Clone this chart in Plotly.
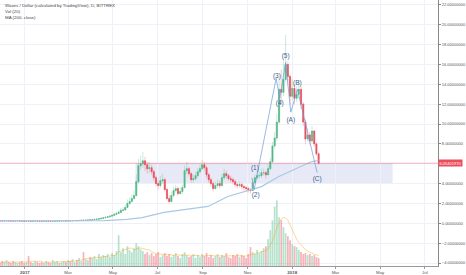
import pandas as pd
import plotly.graph_objects as go

# ---------------- data (3-day candles) ----------------
start_date = "2016-11-25"
closes = [
    0.26, 0.25, 0.24, 0.25, 0.26, 0.25, 0.24, 0.23, 0.24, 0.25,
    0.24, 0.23, 0.22, 0.24, 0.23, 0.22, 0.23, 0.24, 0.23, 0.22,
    0.21, 0.22, 0.23, 0.22, 0.21, 0.22, 0.23, 0.24, 0.23, 0.24,
    0.25, 0.24, 0.26, 0.25, 0.27, 0.28, 0.27, 0.29, 0.31, 0.30,
    0.32, 0.34, 0.33, 0.36, 0.40, 0.42, 0.45, 0.50, 0.55, 0.60,
    0.65, 0.72, 0.80, 0.90, 1.00, 1.10, 1.30, 1.35, 1.60, 2.00,
    2.20, 2.50, 2.80, 4.20, 5.80, 6.00, 6.30, 5.90, 5.50, 5.60,
    5.20, 4.60, 4.00, 3.80, 4.30, 4.40, 3.40, 2.50, 2.20, 2.80,
    3.30, 3.50, 3.00, 3.20, 3.60, 5.30, 5.50, 5.00, 4.40, 4.50,
    4.80, 5.20, 5.50, 5.90, 5.60, 4.90, 4.40, 4.00, 3.50, 3.80,
    4.00, 3.80, 4.60, 5.00, 4.80, 4.50, 4.40, 4.20, 3.90, 3.80,
    3.90, 3.70, 3.60, 3.50, 3.40, 3.30, 4.10, 4.60, 4.80, 4.80,
    5.10, 5.10, 4.90, 5.50, 6.20, 7.80, 8.60, 10.20, 13.50, 13.20,
    14.50, 16.00, 14.80, 12.80, 13.60, 12.60, 13.00, 13.50, 12.00, 10.20,
    8.50, 8.90, 8.30, 9.30, 8.00, 7.00, 6.054,
]
highs = [
    0.28, 0.27, 0.26, 0.27, 0.28, 0.27, 0.26, 0.25, 0.26, 0.27,
    0.26, 0.25, 0.24, 0.26, 0.25, 0.24, 0.25, 0.26, 0.25, 0.24,
    0.23, 0.24, 0.25, 0.24, 0.23, 0.24, 0.25, 0.26, 0.25, 0.26,
    0.27, 0.27, 0.28, 0.28, 0.30, 0.31, 0.30, 0.32, 0.34, 0.34,
    0.35, 0.37, 0.37, 0.40, 0.44, 0.46, 0.50, 0.56, 0.62, 0.68,
    0.74, 0.82, 0.92, 1.05, 1.15, 1.30, 1.55, 1.60, 1.90, 2.40,
    2.60, 2.90, 3.30, 4.90, 6.50, 6.80, 7.20, 6.70, 6.20, 6.20,
    5.90, 5.40, 4.80, 4.30, 4.80, 5.00, 4.60, 3.60, 2.90, 3.20,
    3.70, 3.90, 3.70, 3.60, 3.90, 5.80, 6.20, 5.70, 5.20, 4.90,
    5.20, 5.60, 5.90, 6.40, 6.20, 5.80, 5.10, 4.60, 4.20, 4.20,
    4.40, 4.30, 5.00, 5.50, 5.30, 5.00, 4.80, 4.60, 4.40, 4.10,
    4.20, 4.10, 3.90, 3.80, 3.70, 3.60, 4.40, 4.90, 5.20, 5.20,
    5.50, 5.50, 5.30, 5.90, 6.60, 8.20, 9.20, 11.00, 14.80, 15.50,
    16.50, 19.00, 16.30, 15.00, 14.50, 14.00, 13.80, 14.30, 13.80, 12.20,
    10.50, 9.60, 9.20, 9.80, 9.40, 8.20, 7.20,
]
lows = [
    0.24, 0.23, 0.22, 0.23, 0.24, 0.23, 0.22, 0.21, 0.22, 0.23,
    0.22, 0.21, 0.20, 0.21, 0.21, 0.20, 0.21, 0.22, 0.21, 0.20,
    0.19, 0.20, 0.21, 0.20, 0.19, 0.20, 0.21, 0.22, 0.21, 0.22,
    0.23, 0.22, 0.24, 0.23, 0.25, 0.26, 0.25, 0.27, 0.28, 0.28,
    0.29, 0.31, 0.30, 0.33, 0.35, 0.39, 0.41, 0.44, 0.49, 0.53,
    0.58, 0.63, 0.70, 0.78, 0.88, 0.95, 1.05, 1.20, 1.30, 1.55,
    1.80, 2.10, 2.40, 2.70, 4.00, 5.40, 5.60, 5.30, 5.00, 5.10,
    4.90, 4.30, 3.70, 3.40, 3.60, 4.00, 3.20, 2.30, 2.00, 2.10,
    2.60, 3.10, 2.80, 2.90, 3.00, 3.50, 4.90, 4.70, 4.10, 4.10,
    4.30, 4.60, 5.00, 5.30, 5.30, 4.60, 4.10, 3.70, 3.20, 3.40,
    3.60, 3.50, 3.70, 4.40, 4.50, 4.30, 4.10, 3.90, 3.60, 3.50,
    3.60, 3.40, 3.30, 3.20, 3.10, 3.00, 3.30, 4.00, 4.40, 4.50,
    4.60, 4.80, 4.50, 4.80, 5.40, 6.10, 7.50, 8.30, 10.00, 12.00,
    12.80, 14.20, 14.00, 12.00, 12.40, 12.00, 12.20, 12.60, 11.50, 9.80,
    8.00, 8.20, 7.90, 8.10, 7.70, 6.80, 5.90,
]
volumes = [
    4, 3, 5, 4, 6, 4, 3, 5, 4, 3,
    4, 5, 3, 4, 10, 4, 3, 5, 4, 3,
    4, 3, 5, 4, 3, 6, 4, 5, 3, 4,
    5, 4, 6, 5, 7, 4, 6, 8, 5, 14,
    7, 6, 9, 8, 10, 7, 12, 9, 11, 10,
    12, 9, 13, 11, 15, 31, 14, 18, 12, 20,
    16, 14, 18, 23, 20, 17, 15, 12, 14, 11,
    13, 10, 12, 14, 9, 11, 13, 10, 12, 9,
    11, 13, 10, 8, 12, 14, 11, 9, 10, 12,
    8, 11, 9, 12, 10, 13, 9, 11, 8, 10,
    12, 9, 11, 10, 13, 9, 8, 11, 10, 12,
    9, 11, 10, 8, 12, 19, 14, 12, 16, 13,
    15, 18, 20, 27, 36, 46, 60, 66, 49, 46,
    39, 33, 30, 26, 22, 20, 19, 16, 14, 12,
    13, 11, 12, 10, 11, 9, 8,
]

# MA(200, close)
ma_dates = ["2016-11-28", "2017-03-20", "2017-04-20", "2017-05-20", "2017-06-10",
            "2017-07-10", "2017-08-01", "2017-09-08", "2017-10-05", "2017-11-01",
            "2017-11-20", "2017-12-13", "2018-01-05", "2018-01-27", "2018-02-06"]
ma_values = [0.25, 0.25, 0.28, 0.40, 0.57, 1.10, 1.30, 1.70, 2.70, 3.30,
             3.70, 4.70, 5.50, 6.20, 6.35]

# Elliott wave points and labels
wave_dates = ["2017-11-07", "2017-11-10", "2017-12-10", "2017-12-15",
              "2017-12-23", "2017-12-30", "2018-01-08", "2018-02-04"]
wave_values = [4.6, 3.4, 14.6, 12.6, 16.2, 11.2, 13.5, 5.1]
wave_labels = ["(1)", "(2)", "(3)", "(4)", "(5)", "(A)", "(B)", "(C)"]
label_dates = ["2017-11-11", "2017-11-12", "2017-12-11", "2017-12-15",
               "2017-12-23", "2017-12-30", "2018-01-08", "2018-02-04"]
label_values = [5.5, 2.8, 14.8, 12.1, 16.8, 10.4, 14.1, 4.4]

last_price = 6.05401970
zone_start, zone_end = "2017-06-01", "2018-05-18"
zone_low, zone_high = 4.0, 6.054

price_ticks = [-4, -2, 0, 2, 4, 8, 10, 12, 14, 16, 18, 20, 22]
tick_vals = ["2017-01-01", "2017-03-01", "2017-05-01", "2017-07-01", "2017-09-01",
             "2017-11-01", "2018-01-01", "2018-03-01", "2018-05-01", "2018-07-01"]
tick_text = ["<b>2017</b>", "Mar", "May", "Jul", "Sep", "Nov", "<b>2018</b>", "Mar", "May", "Jul"]

# ---------------- build ----------------
dates = pd.date_range(start_date, periods=len(closes), freq="3D")
df = pd.DataFrame({"close": closes, "high": highs, "low": lows, "vol": volumes}, index=dates)
df["open"] = df["close"].shift(1).fillna(df["close"].iloc[0] * 0.98)
df["body_hi"] = df[["open", "close"]].max(axis=1)
df["body_lo"] = df[["open", "close"]].min(axis=1)
df["vol_ma"] = df["vol"].rolling(7, min_periods=1).mean()
up = df["close"] >= df["open"]

UP, DN = "#53b987", "#eb4d5c"
GRID = "#eef1f8"

fig = go.Figure()

# gridline hidden behind the price label in the reference
fig.add_shape(type="line", x0=0, x1=1, xref="paper", y0=6, y1=6, yref="y",
              line=dict(color=GRID, width=1), layer="below")

# volume
fig.add_trace(go.Bar(
    x=df.index, y=df["vol"], yaxis="y2",
    marker=dict(color=[("rgba(83,185,135,0.42)" if u else "rgba(235,77,92,0.42)") for u in up],
                line=dict(width=0)),
    hoverinfo="skip"))
fig.add_trace(go.Scatter(x=df.index, y=df["vol_ma"], yaxis="y2", mode="lines",
                         line=dict(color="rgba(255,152,0,0.5)", width=0.8), hoverinfo="skip"))

# MA 200
fig.add_trace(go.Scatter(x=pd.to_datetime(ma_dates), y=ma_values, mode="lines",
                         line=dict(color="#a9c8e6", width=1.2), hoverinfo="skip"))

# wicks (pale)
fig.add_trace(go.Candlestick(
    x=df.index, open=df["open"], high=df["high"], low=df["low"], close=df["close"],
    increasing=dict(line=dict(color="rgba(83,185,135,0.3)", width=1), fillcolor="rgba(83,185,135,0.3)"),
    decreasing=dict(line=dict(color="rgba(235,77,92,0.3)", width=1), fillcolor="rgba(235,77,92,0.3)"),
    hoverinfo="skip"))
# bodies
fig.add_trace(go.Candlestick(
    x=df.index, open=df["open"], high=df["body_hi"], low=df["body_lo"], close=df["close"],
    increasing=dict(line=dict(color=UP, width=0.5), fillcolor=UP),
    decreasing=dict(line=dict(color=DN, width=0.5), fillcolor=DN),
    hoverinfo="skip"))

# Elliott wave
fig.add_trace(go.Scatter(x=pd.to_datetime(wave_dates), y=wave_values, mode="lines",
                         line=dict(color="#6d9bd6", width=0.7), hoverinfo="skip"))
fig.add_trace(go.Scatter(x=pd.to_datetime(label_dates), y=label_values, mode="text",
                         text=wave_labels, textfont=dict(size=6.5, color="#3e5f8f", family="Arial"),
                         hoverinfo="skip"))

# zone and last-price line
fig.add_shape(type="rect", x0=zone_start, x1=zone_end, y0=zone_low, y1=zone_high,
              xref="x", yref="y", fillcolor="rgba(120,135,205,0.18)", line=dict(width=0), layer="below")
fig.add_shape(type="line", x0=0, x1=1, xref="paper", y0=last_price, y1=last_price, yref="y",
              line=dict(color="rgba(235,77,92,0.4)", width=1))

fig.add_annotation(x=1, xref="paper", y=last_price, yref="y", xanchor="left", yanchor="middle",
                   text=f"{last_price:.8f}", showarrow=False, bgcolor=DN, borderpad=0.5,
                   font=dict(size=4, color="white", family="Arial"))

for i, t in enumerate(["Waves / Dollar (calculated by TradingView), D, BITTREX",
                       "Vol (20)", "MA (200, close)"]):
    fig.add_annotation(x=0.006, xref="paper", y=1 - (6 + 6 * i) / 268, yref="paper",
                       xanchor="left", yanchor="middle", text=t, showarrow=False,
                       font=dict(size=4.4, color="#444", family="Arial"))

fig.update_layout(
    width=466, height=275, margin=dict(l=0, r=26, t=0, b=7),
    paper_bgcolor="white", plot_bgcolor="white", showlegend=False, bargap=0.2,
    xaxis=dict(type="date", range=["2016-11-28", "2018-07-19"], rangeslider=dict(visible=False),
               tickvals=tick_vals, ticktext=tick_text, tickfont=dict(size=4.4, color="#555", family="Arial"),
               showgrid=True, gridcolor=GRID, gridwidth=1, showline=True, linecolor="#999",
               linewidth=1, ticks="outside", ticklen=2, tickcolor="#999"),
    yaxis=dict(side="right", range=[-4.3, 22.5], tickvals=price_ticks, tickformat=".8f",
               tickfont=dict(size=4, color="#555", family="Arial"), showgrid=True, gridcolor=GRID,
               zeroline=False, showline=True, linecolor="#888", linewidth=1, ticks="outside",
               ticklen=2, tickcolor="#888"),
    yaxis2=dict(overlaying="y", range=[0, 268], visible=False),
)

fig.write_html("out.html")
